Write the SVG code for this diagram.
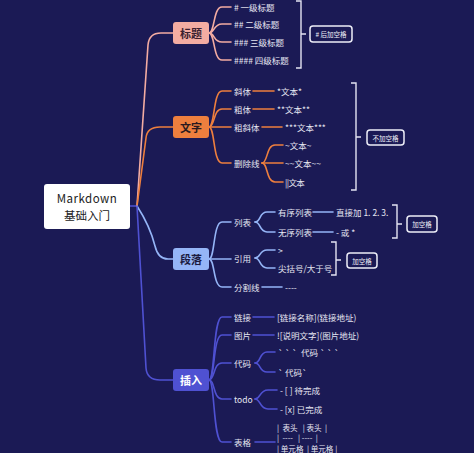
<svg xmlns="http://www.w3.org/2000/svg" width="474" height="453" viewBox="0 0 474 453">
<style>
text{font-family:"Noto Sans CJK SC","Noto Sans",sans-serif;}
.c{font-size:8.5px;fill:#e6e6f2;dominant-baseline:central;white-space:pre;}
.t{font-size:7.6px;}
.b{font-size:11px;font-weight:bold;text-anchor:middle;dominant-baseline:central;}
.n{font-size:6.5px;fill:#f0f0f8;text-anchor:middle;dominant-baseline:central;}
.l{fill:none;stroke-width:1.6;stroke-linecap:round;}
.pk{stroke:#f3aca2;} .or{stroke:#ee7f3e;} .lb{stroke:#95b5f7;} .bl{stroke:#4f51d2;}
.br{fill:none;stroke:#e4e4f2;stroke-width:1.4;}
.bx{fill:none;stroke:#eeeef8;stroke-width:1.5;}
</style>
<rect width="474" height="453" fill="#1b1a55"/>
<g id="connectors">
  <path class="l bl" d="M130 206 H137"/>
  <path class="l pk" d="M137 206 L148 45 Q149 33 161 33 H173"/>
  <path class="l or" d="M137 206 L146 138 Q147 127 160 127 H173"/>
  <path class="l lb" d="M137 206 Q150 226 155 246 Q158 259 168 259 H173"/>
  <path class="l bl" d="M137 206 L146 368 Q147 380 160 380 H173"/>
  <g class="l pk">
    <path d="M209 33 C215 33 213 7 222 7 H231"/>
    <path d="M209 33 C215 33 213 24 222 24 H231"/>
    <path d="M209 33 C215 33 213 42 222 42 H231"/>
    <path d="M209 33 C215 33 213 60 222 60 H231"/>
  </g>
  <g class="l or">
    <path d="M209 127 C215 127 213 91 222 91 H231"/>
    <path d="M209 127 C215 127 213 109 222 109 H231"/>
    <path d="M209 127 H231"/>
    <path d="M209 127 C215 127 213 163 222 163 H231"/>
    <path d="M253 91 H274"/>
    <path d="M253 109 H274"/>
    <path d="M262 127 H282"/>
    <path d="M262 163 C268 163 266 145 275 145 H283"/>
    <path d="M262 163 H283"/>
    <path d="M262 163 C268 163 266 182 275 182 H283"/>
  </g>
  <g class="l lb">
    <path d="M209 259 C215 259 213 222 222 222 H231"/>
    <path d="M209 259 H231"/>
    <path d="M209 259 C215 259 213 287 222 287 H231"/>
    <path d="M255 222 C261 222 259 212 267 212 H275"/>
    <path d="M255 222 C261 222 259 232 267 232 H275"/>
    <path d="M313 212 H333"/>
    <path d="M313 232 H333"/>
    <path d="M255 258 C261 258 259 250 267 250 H275"/>
    <path d="M255 258 C261 258 259 268 267 268 H275"/>
    <path d="M262 287 H282"/>
  </g>
  <g class="l bl">
    <path d="M209 380 C215 380 213 317 222 317 H231"/>
    <path d="M209 380 C215 380 213 335 222 335 H231"/>
    <path d="M209 380 C215 380 213 363 222 363 H231"/>
    <path d="M209 380 C215 380 213 399 222 399 H231"/>
    <path d="M209 380 C215 380 213 442 222 442 H231"/>
    <path d="M253 317 H274"/>
    <path d="M253 335 H274"/>
    <path d="M255 363 C261 363 259 352 267 352 H275"/>
    <path d="M255 363 C261 363 259 372 267 372 H275"/>
    <path d="M255 399 C261 399 259 390 268 390 H277"/>
    <path d="M255 399 C261 399 259 409 268 409 H277"/>
    <path d="M255 442 H275"/>
  </g>
  <path class="br" d="M296 1 H301 V68 H296 M301 34 H306"/>
  <path class="br" d="M351 83 H356 V190 H351 M356 137 H361"/>
  <path class="br" d="M392 205 H397 V238 H392 M397 224 H402"/>
  <path class="br" d="M331 242 H336 V275 H331 M336 260 H341"/>
</g>
<g id="root">
  <rect x="44" y="184" width="86" height="45" rx="3" fill="#ffffff"/>
  <text x="87" y="198" font-size="11.5" fill="#222" text-anchor="middle" dominant-baseline="central" style="letter-spacing:0.5px">Markdown</text>
  <text x="87" y="215" font-size="11.5" fill="#222" text-anchor="middle" dominant-baseline="central">基础入门</text>
</g>
<g id="n-biaoti">
  <rect x="173" y="22" width="36" height="22" rx="3" fill="#f3aca2"/>
  <text class="b" x="191" y="33" fill="#3a2030">标题</text>
</g>
<g id="n-wenzi">
  <rect x="173" y="116" width="36" height="22" rx="3" fill="#ee7f3e"/>
  <text class="b" x="191" y="127" fill="#2a1a20">文字</text>
</g>
<g id="n-duanluo">
  <rect x="173" y="248" width="36" height="22" rx="3" fill="#95b5f7"/>
  <text class="b" x="191" y="259" fill="#1b1a40">段落</text>
</g>
<g id="n-charu">
  <rect x="173" y="369" width="36" height="22" rx="3" fill="#4f51d2"/>
  <text class="b" x="191" y="380" fill="#ffffff">插入</text>
</g>
<g id="biaoti-children">
  <text class="c" x="234" y="7"># 一级标题</text>
  <text class="c" x="234" y="24">## 二级标题</text>
  <text class="c" x="234" y="42">### 三级标题</text>
  <text class="c" x="234" y="60">#### 四级标题</text>
</g>
<g id="wenzi-children">
  <text class="c" x="234" y="91">斜体</text>
  <text class="c" x="234" y="109">粗体</text>
  <text class="c" x="234" y="127">粗斜体</text>
  <text class="c" x="234" y="163">删除线</text>
  <text class="c" x="277" y="91">*文本*</text>
  <text class="c" x="277" y="109">**文本**</text>
  <text class="c" x="285" y="127">***文本***</text>
  <text class="c" x="285" y="145">~文本~</text>
  <text class="c" x="285" y="163">~~文本~~</text>
  <text class="c" x="285" y="182" style="letter-spacing:-0.6px">||文本</text>
</g>
<g id="duanluo-children">
  <text class="c" x="234" y="222">列表</text>
  <text class="c" x="234" y="258">引用</text>
  <text class="c" x="234" y="287">分割线</text>
  <text class="c" x="278" y="212">有序列表</text>
  <text class="c" x="278" y="232">无序列表</text>
  <text class="c" x="336" y="212">直接加 1. 2. 3.</text>
  <text class="c" x="336" y="232">- 或 *</text>
  <text class="c" x="278" y="250">&gt;</text>
  <text class="c" x="278" y="268">尖括号/大于号</text>
  <text class="c" x="285" y="287">----</text>
</g>
<g id="charu-children">
  <text class="c" x="234" y="317">链接</text>
  <text class="c" x="234" y="335">图片</text>
  <text class="c" x="234" y="363">代码</text>
  <text class="c" x="234" y="399">todo</text>
  <text class="c" x="234" y="442">表格</text>
  <text class="c" x="277" y="317">[链接名称](链接地址)</text>
  <text class="c" x="277" y="335">![说明文字](图片地址)</text>
  <text class="c" x="278" y="352">` ` `  代码 ` ` `</text>
  <text class="c" x="278" y="372">` 代码`</text>
  <text class="c" x="280" y="390">- [ ] 待完成</text>
  <text class="c" x="280" y="409">- [x] 已完成</text>
  <text class="c t" x="277" y="427">|  表头   | 表头  |</text>
  <text class="c t" x="277" y="437.5">|  ----   | ----  |</text>
  <text class="c t" x="277" y="448">| 单元格  | 单元格 |</text>
</g>
<g id="notes">
  <rect class="bx" x="310" y="26" width="42" height="16" rx="3"/>
  <text class="n" x="331" y="34"># 后加空格</text>
  <rect class="bx" x="367" y="130" width="37" height="15" rx="3"/>
  <text class="n" x="385.5" y="137.5">不加空格</text>
  <rect class="bx" x="407" y="216" width="30" height="16" rx="3"/>
  <text class="n" x="422" y="224">加空格</text>
  <rect class="bx" x="347" y="253" width="30" height="15" rx="3"/>
  <text class="n" x="362" y="260.5">加空格</text>
</g>
</svg>
